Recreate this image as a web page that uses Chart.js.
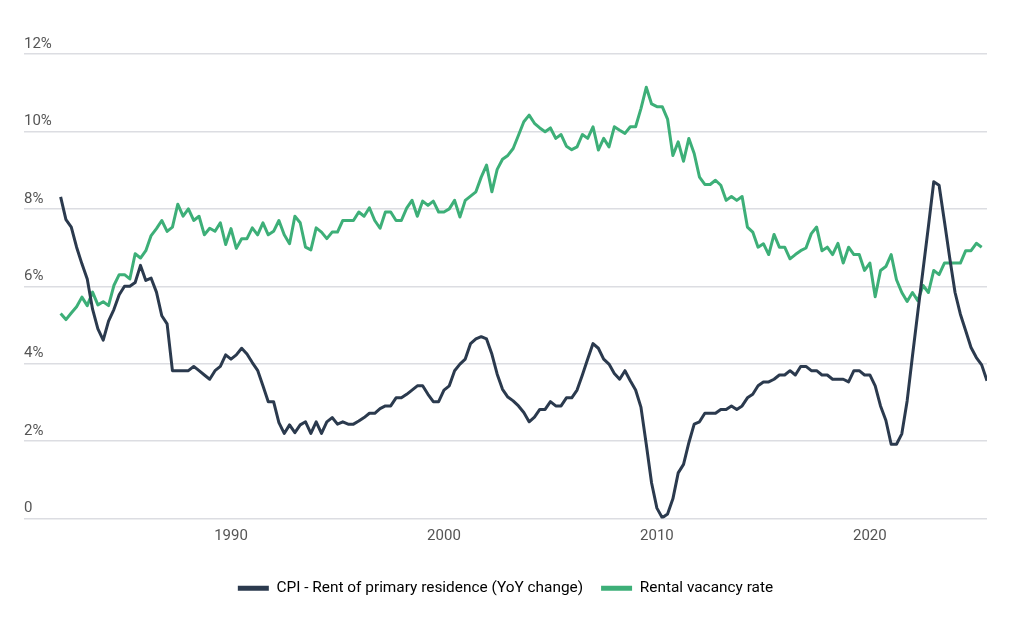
<!DOCTYPE html>
<html>
<head>
<meta charset="utf-8">
<script src="https://cdn.jsdelivr.net/npm/chart.js@4.4.1/dist/chart.umd.min.js"></script>
<style>
    html, body { margin: 0; padding: 0; background: #fff; }
    #wrap { width: 1024px; height: 618px; position: relative; }
</style>
</head>
<body>
<div id="wrap"><canvas id="myLineChart"></canvas></div>
<script>
// quarterly series, first point = 1982 Q1
let firstYear = 1982;
let yearTicks = [1990, 2000, 2010, 2020];
let seriesNames = ["CPI - Rent of primary residence (YoY change)", "Rental vacancy rate"];

let cpiRent = [
    8.31, 7.72, 7.53, 7.01, 6.58, 6.19, 5.41, 4.90, 4.61, 5.10,
    5.40, 5.78, 6.00, 6.00, 6.10, 6.54, 6.15, 6.21, 5.85, 5.24,
    5.03, 3.82, 3.82, 3.82, 3.82, 3.93, 3.82, 3.71, 3.60, 3.82,
    3.93, 4.23, 4.12, 4.23, 4.40, 4.25, 4.03, 3.83, 3.43, 3.02,
    3.02, 2.48, 2.20, 2.42, 2.22, 2.42, 2.50, 2.20, 2.50, 2.20,
    2.50, 2.61, 2.44, 2.50, 2.44, 2.44, 2.52, 2.61, 2.72, 2.72,
    2.84, 2.91, 2.91, 3.12, 3.12, 3.21, 3.32, 3.43, 3.43, 3.21,
    3.02, 3.02, 3.32, 3.43, 3.82, 3.99, 4.12, 4.52, 4.64, 4.70,
    4.64, 4.25, 3.73, 3.34, 3.14, 3.04, 2.91, 2.74, 2.50, 2.62,
    2.82, 2.82, 3.02, 2.91, 2.91, 3.12, 3.12, 3.32, 3.71, 4.12,
    4.52, 4.40, 4.12, 3.99, 3.75, 3.60, 3.82, 3.56, 3.32, 2.88,
    1.92, 0.92, 0.27, 0.02, 0.12, 0.51, 1.18, 1.40, 1.96, 2.44,
    2.50, 2.72, 2.72, 2.72, 2.82, 2.82, 2.91, 2.82, 2.91, 3.12,
    3.21, 3.43, 3.53, 3.53, 3.60, 3.71, 3.71, 3.82, 3.71, 3.93,
    3.93, 3.82, 3.82, 3.71, 3.71, 3.60, 3.60, 3.60, 3.53, 3.82,
    3.82, 3.71, 3.71, 3.43, 2.91, 2.54, 1.92, 1.92, 2.19, 3.04,
    4.20, 5.33, 6.44, 7.55, 8.70, 8.61, 7.68, 6.73, 5.84, 5.28,
    4.85, 4.42, 4.16, 3.97, 3.56
];

let vacancyRate = [
    5.30, 5.14, 5.31, 5.47, 5.72, 5.50, 5.85, 5.52, 5.60, 5.50,
    6.02, 6.30, 6.30, 6.19, 6.84, 6.73, 6.92, 7.31, 7.49, 7.70,
    7.42, 7.53, 8.12, 7.81, 8.00, 7.70, 7.81, 7.33, 7.50, 7.42,
    7.64, 7.08, 7.49, 6.98, 7.23, 7.23, 7.51, 7.33, 7.64, 7.33,
    7.42, 7.70, 7.33, 7.10, 7.81, 7.64, 7.01, 6.94, 7.51, 7.40,
    7.23, 7.40, 7.40, 7.70, 7.70, 7.70, 7.92, 7.81, 8.03, 7.70,
    7.50, 7.92, 7.92, 7.70, 7.70, 8.02, 8.22, 7.81, 8.20, 8.09,
    8.20, 7.92, 7.92, 8.00, 8.22, 7.79, 8.22, 8.33, 8.44, 8.82,
    9.13, 8.44, 9.02, 9.28, 9.38, 9.56, 9.90, 10.25, 10.42, 10.21,
    10.09, 9.99, 10.09, 9.82, 9.92, 9.62, 9.53, 9.60, 9.92, 9.82,
    10.12, 9.52, 9.82, 9.60, 10.12, 10.03, 9.95, 10.12, 10.12, 10.59,
    11.14, 10.71, 10.64, 10.64, 10.32, 9.38, 9.73, 9.23, 9.82, 9.43,
    8.82, 8.63, 8.63, 8.74, 8.61, 8.22, 8.32, 8.22, 8.32, 7.53,
    7.40, 7.01, 7.10, 6.82, 7.34, 7.01, 7.01, 6.71, 6.82, 6.92,
    6.99, 7.36, 7.53, 6.92, 7.01, 6.82, 7.11, 6.60, 7.01, 6.82,
    6.82, 6.41, 6.60, 5.73, 6.41, 6.51, 6.82, 6.17, 5.84, 5.61,
    5.84, 5.63, 6.02, 5.84, 6.41, 6.30, 6.60, 6.60, 6.60, 6.60,
    6.92, 6.92, 7.11, 7.01
];

let colors = ['#2b3a4e', '#3daf78'];

function toPoints(values) {
    let points = [];
    for (let i = 0; i < values.length; i++) {
        points.push({x: firstYear + i / 4, y: values[i]});
    }
    return points;
}

let canvas = document.getElementById('myLineChart');
let lineChart = new Chart(canvas, {
    type: 'line',
    data: {
        datasets: [
            {
                label: seriesNames[0],
                data: toPoints(cpiRent),
                borderColor: colors[0],
                backgroundColor: colors[0],
                borderWidth: 3,
                pointRadius: 0,
                tension: 0,
                borderJoinStyle: 'round'
            },
            {
                label: seriesNames[1],
                data: toPoints(vacancyRate),
                borderColor: colors[1],
                backgroundColor: colors[1],
                borderWidth: 3,
                pointRadius: 0,
                tension: 0,
                borderJoinStyle: 'round'
            }
        ]
    },
    options: {
        responsive: true,
        maintainAspectRatio: false,
        animation: false,
        layout: {
            padding: {left: 24, right: 37, top: 54, bottom: 12}
        },
        plugins: {
            tooltip: {enabled: false},
            legend: {
                position: 'bottom',
                labels: {
                    boxWidth: 31,
                    boxHeight: 5,
                    padding: 18,
                    color: '#444',
                    font: {family: 'Roboto', size: 15.4},
                    generateLabels: function (chart) {
                        return chart.data.datasets.map(function (ds, i) {
                            return {
                                text: ds.label,
                                fillStyle: ds.borderColor,
                                strokeStyle: ds.borderColor,
                                lineWidth: 0,
                                hidden: false,
                                datasetIndex: i
                            };
                        });
                    }
                }
            }
        },
        scales: {
            x: {
                type: 'linear',
                min: 1980.28,
                max: 2025.5,
                afterBuildTicks: function (scale) {
                    scale.ticks = yearTicks.map(function (y) { return {value: y}; });
                },
                afterFit: function (scale) {
                    scale.height += 8;
                },
                grid: {display: false, drawTicks: false},
                border: {display: false},
                ticks: {
                    padding: 9,
                    color: '#555',
                    font: {family: 'Roboto', size: 15},
                    callback: function (v) { return String(v); }
                }
            },
            y: {
                min: 0,
                max: 12,
                grid: {color: '#dcdde2', lineWidth: 1.5, drawTicks: false},
                border: {display: false},
                ticks: {
                    stepSize: 2,
                    mirror: true,
                    padding: 0,
                    labelOffset: -10,
                    color: '#555',
                    font: {family: 'Roboto', size: 15},
                    callback: function (v) { return v === 0 ? '0' : v + '%'; }
                }
            }
        }
    }
});
</script>
</body>
</html>
